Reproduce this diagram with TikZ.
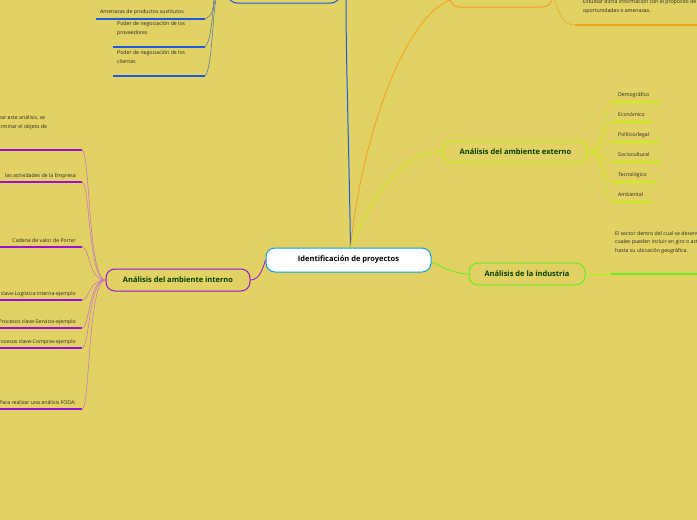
\documentclass[tikz,border=0pt]{standalone}
\usepackage{fontspec}
\setmainfont{Open Sans}
\begin{document}
\begin{tikzpicture}[x=1pt,y=-1pt,
  main/.style={draw,rounded corners=9pt,line width=1pt,inner sep=0pt,font=\fontsize{7.5}{9}\selectfont\bfseries,text=green!25!black},
  leaf/.style={font=\fontsize{5.2}{8.3}\selectfont,text=black!85,inner sep=0pt,align=left},
  ul/.style={line width=1.3pt},
  br/.style={line width=0.5pt}]
\definecolor{bg}{HTML}{E2D264}
\definecolor{cb}{HTML}{1A5AE0}
\definecolor{co}{HTML}{F5A020}
\definecolor{cy}{HTML}{CCF01A}
\definecolor{cg}{HTML}{66EE22}
\definecolor{cp}{HTML}{9A10D8}
\definecolor{cpl}{HTML}{C070C8}
\useasboundingbox[fill=bg] (0,0) rectangle (697,520);
% central
\node[main,draw=cb!60!cyan,fill=white,minimum width=165pt,minimum height=24pt,text=black] (c) at (348.5,260) {Identificación de proyectos};
% top nodes (cut)
\node[main,draw=cb,minimum width=112pt,minimum height=24pt] (tb) at (284,-9) {};
\node[main,draw=co,minimum width=102pt,minimum height=24pt] (to) at (501,-5) {};
\node[main,draw=cy,minimum width=145pt,minimum height=21pt] (ex) at (515.5,151.5) {Análisis del ambiente externo};
\node[main,draw=cg,minimum width=116pt,minimum height=22pt] (in) at (527,274) {Análisis de la industria};
\node[main,draw=cp,minimum width=144pt,minimum height=22pt] (ai) at (178,280) {Análisis del ambiente interno};
% main connectors
\draw[cb,line width=1pt] (c.north) ++(2,0) coordinate (c1) (c1) .. controls (349,150) and (346,60) .. (346,0);
\draw[co,line width=0.8pt] (c1) .. controls (360,150) and (400,20) .. (450,0);
\draw[cy,line width=0.8pt] (c1) .. controls (370,200) and (400,152) .. (ex.west);
\draw[cg,line width=0.8pt] (c.east) ++(0,2) .. controls (445,268) and (455,274) .. (in.west);
\draw[cp,line width=0.8pt] (c.west) .. controls (262,272) and (258,280) .. (ai.east);
% blue leaves
\node[leaf,anchor=base west] (b1) at (100,13) {Amenazas de productos sustitutos};
\draw[cb,ul] (96,19) -- (205,19) coordinate (b1e);
\node[leaf,anchor=base west] (b2) at (117,34) {Poder de negociación de los\\proveedores};
\draw[cb,ul] (113,47) -- (205,47) coordinate (b2e);
\node[leaf,anchor=base west] (b3) at (117,63) {Poder de negociación de los\\clientes};
\draw[cb,ul] (113,76) -- (205,76) coordinate (b3e);
\draw[cb!50!gray,br] (b1e) .. controls (212,15) .. (214,0);
\draw[cb!50!gray,br] (b2e) .. controls (212,40) and (212,10) .. (215,0);
\draw[cb!50!gray,br] (b3e) .. controls (212,70) and (213,10) .. (216,0);
% orange leaf
\node[leaf,anchor=base west] (o1) at (583,12) {Estudiar dicha información con el propósito de detectar\\oportunidades o amenazas.};
\draw[co,ul] (575,25) -- (697,25);
\draw[co,br] (552,-3) .. controls (558,-3) and (556,25) .. (575,25);
% external leaves
\foreach \t/\y/\w [count=\i] in {Demográfico/102/660,Económico/122/653,{Político\slash legal}/142/658,Sociocultural/162/660,Tecnológico/182/656,Ambiental/202/652}{
  \node[leaf,anchor=base west] (e\i) at (618,\y-6) {\t};
  \draw[cy,ul] (613,\y) -- (\w,\y);
  \draw[cy,br] (ex.east) .. controls (606,151.5) and (603,\y) .. (613,\y);
}
% industry leaf
\node[leaf,anchor=base west] (i1) at (615,252) {El sector dentro del cual se desenvuelve la empresa, las\\cuales pueden incluir en giro o actividad de la misma\\hasta su ubicación geográfica.};
\draw[cg,ul] (611,274) -- (697,274);
\draw[cg!60!yellow,br] (in.east) -- (611,274);
% internal leaves
\node[leaf,anchor=base west] (p1) at (-24,128) {Para realizar este análisis, se\\debe determinar el objeto de};
\node[leaf,anchor=base east] (p2) at (76,177) {las actividades de la Empresa};
\node[leaf,anchor=base east] (p3) at (76,242) {Cadena de valor de Porter};
\node[leaf,anchor=base east] (p4) at (76,295) {Procesos clave-Logística interna-ejemplo};
\node[leaf,anchor=base east] (p5) at (76,323) {Procesos clave-Servicio-ejemplo};
\node[leaf,anchor=base east] (p6) at (76,343) {Procesos clave-Compras-ejemplo};
\node[leaf,anchor=base east] (p7) at (76,404) {Para realizar una análisis FODA:};
\foreach \y in {150,182,247,300,328,348,409}{
  \draw[cp,ul] (0,\y) -- (82,\y);
  \draw[cpl,br] (82,\y) .. controls (90,\y) and (88,280) .. (ai.west);
}
\end{tikzpicture}
\end{document}
